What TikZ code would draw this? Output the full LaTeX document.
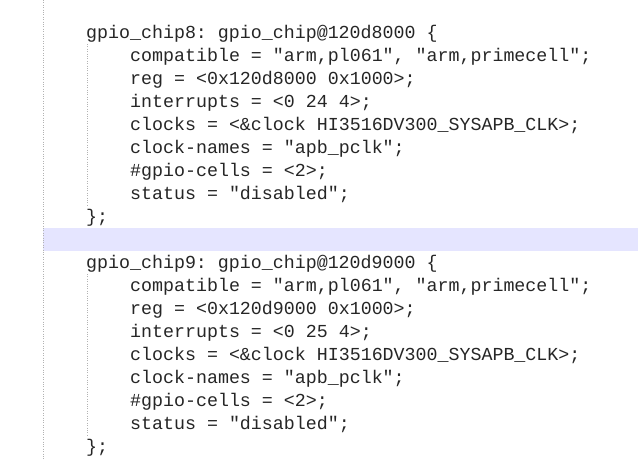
\documentclass[tikz,border=0pt]{standalone}
\usepackage{fontspec}
\setmonofont{Liberation Mono}
\begin{document}
\begin{tikzpicture}[x=1pt,y=-1pt,
  code/.style={anchor=base west,inner sep=0pt,font=\ttfamily\fontsize{18.3}{22}\selectfont,text=black!85}]
\useasboundingbox (0,0) rectangle (638,459);
\fill[white] (0,0) rectangle (638,459);
\fill[blue!10] (43,228) rectangle (638,251);
\draw[gray!60,dotted] (43,0) -- (43,459);
\draw[gray!60,dotted] (87,44) -- (87,205);
\draw[gray!60,dotted] (87,274) -- (87,435);
\def\L{86}\def\I{130}
\foreach \x/\y/\t [count=\n] in {
 \L/38/{gpio\_chip8: gpio\_chip@120d8000 \{},
 \I/61/{compatible = "arm,pl061", "arm,primecell";},
 \I/84/{reg = <0x120d8000 0x1000>;},
 \I/107/{interrupts = <0 24 4>;},
 \I/130/{clocks = <\&clock  HI3516DV300\_SYSAPB\_CLK>;},
 \I/153/{clock-names = "apb\_pclk";},
 \I/176/{\#gpio-cells = <2>;},
 \I/199/{status = "disabled";},
 \L/222/{\};},
 \L/268/{gpio\_chip9: gpio\_chip@120d9000 \{},
 \I/291/{compatible = "arm,pl061", "arm,primecell";},
 \I/314/{reg = <0x120d9000 0x1000>;},
 \I/337/{interrupts = <0 25 4>;},
 \I/360/{clocks = <\&clock  HI3516DV300\_SYSAPB\_CLK>;},
 \I/383/{clock-names = "apb\_pclk";},
 \I/406/{\#gpio-cells = <2>;},
 \I/429/{status = "disabled";},
 \L/452/{\};}}
  \node[code] (l\n) at (\x,\y) {\t};
\end{tikzpicture}
\end{document}
